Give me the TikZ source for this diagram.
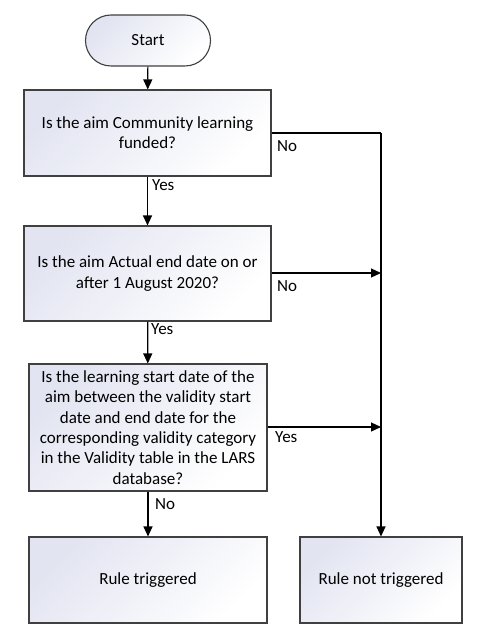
\documentclass[tikz,border=0pt]{standalone}
\usepackage{fontspec}
\setmainfont{Carlito}
\usetikzlibrary{arrows.meta,shapes.misc}
\definecolor{boxtop}{HTML}{E2E4F1}
\definecolor{boxline}{HTML}{404040}
\begin{document}
\begin{tikzpicture}[x=1pt,y=-1pt,
  every node/.style={font=\fontsize{17}{20.3}\selectfont},
  flowbox/.style={draw=boxline, line width=1.1pt, top color=boxtop, bottom color=white, shading angle=45, align=center, inner sep=0pt},
  flowarrow/.style={-{Triangle[length=10pt,width=9pt]}, line width=1.2pt, black},
  flowline/.style={line width=1.2pt, black},
  lbl/.style={inner sep=0pt, anchor=north west}]
\useasboundingbox (0,0) rectangle (496,636);
\node[flowbox, rounded rectangle, minimum width=125pt, minimum height=51pt] (start) at (148,40.5) {Start};
\node[flowbox, minimum width=247pt, minimum height=86pt] (q1) at (147.5,133) {Is the aim Community learning\\funded?};
\node[flowbox, minimum width=247pt, minimum height=95pt] (q2) at (147.5,273.5) {Is the aim Actual end date on or\\after 1 August 2020?};
\node[flowbox, minimum width=238pt, minimum height=127pt] (q3) at (148,427.5) {Is the learning start date of the\\aim between the validity start\\date and end date for the\\corresponding validity category\\in the Validity table in the LARS\\database?};
\node[flowbox, minimum width=238pt, minimum height=86pt] (r1) at (148,580) {Rule triggered};
\node[flowbox, minimum width=162pt, minimum height=86pt] (r2) at (381,580) {Rule not triggered};
\coordinate (j1) at (381,133);
\coordinate (j2) at (381,273);
\coordinate (j3) at (381,427);
\draw[flowarrow] (start) -- (q1);
\draw[flowarrow] (q1) -- (q2);
\draw[flowarrow] (q2) -- (q3);
\draw[flowarrow] (q3) -- (r1);
\draw[flowline] (q1.east) -- (j1);
\draw[flowarrow] (j1) -- (r2);
\draw[flowarrow] (q2.east |- j2) -- (j2);
\draw[flowarrow] (q3.east |- j3) -- (j3);
\node[lbl] (l1) at (277,140) {No};
\node[lbl] (l2) at (152,179) {Yes};
\node[lbl] (l3) at (277,280) {No};
\node[lbl] (l4) at (151,323) {Yes};
\node[lbl] (l5) at (275,431) {Yes};
\node[lbl] (l6) at (155,498) {No};
\end{tikzpicture}
\end{document}
